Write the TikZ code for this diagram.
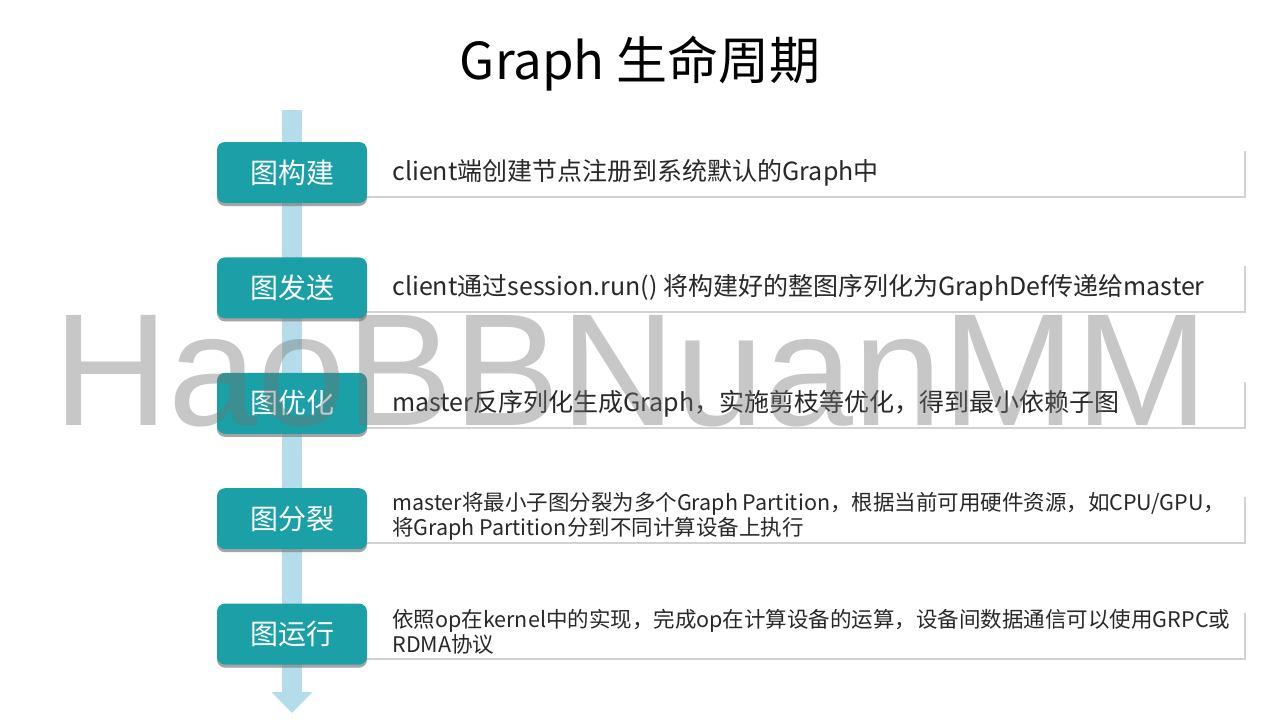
\documentclass[tikz,border=0pt]{standalone}
\usepackage{fontspec}
\setmainfont{Noto Sans CJK SC}
\newfontfamily\wmfont{Liberation Sans}
\usetikzlibrary{positioning,shadows,arrows.meta}
\definecolor{stageteal}{RGB}{26,160,166}
\definecolor{barblue}{RGB}{180,220,234}
\definecolor{desctext}{RGB}{40,40,40}
\tikzstyle{stage box}=[
    fill = stageteal,
    rounded corners = 8pt,
    minimum width = 150pt,
    minimum height = 61pt,
    text = white,
    font = \fontsize{28pt}{32pt}\selectfont,
    drop shadow = {shadow xshift=0pt, shadow yshift=-3pt, opacity=0.45}
]
\tikzstyle{desc bar}=[
    fill = white,
    minimum width = 899pt,
    minimum height = 47pt,
    anchor = west,
    drop shadow = {shadow xshift=1.5pt, shadow yshift=-2pt, opacity=0.35}
]

\begin{document}
\begin{tikzpicture}[x=1pt, y=-1pt, node distance={54pt},
    desc/.style = {anchor=west, align=left, inner sep=0pt, text=desctext, font=\fontsize{25pt}{29pt}\selectfont},
    small desc/.style = {desc, font=\fontsize{21.5pt}{25pt}\selectfont}]
        \fill[white] (0,0) rectangle (1280,720);
        \useasboundingbox (0,0) rectangle (1280,720);

        % title
        \node (title) at (640,64) {\fontsize{51pt}{56pt}\selectfont Graph 生命周期};

        % time line
        \coordinate (top) at (292,110);
        \coordinate (bottom) at (292,713);
        \draw[barblue, line width=20pt, -{Triangle[width=40pt, length=21pt]}] (top) -- (bottom);

        % stages
        \node[stage box, fill=none, drop shadow={opacity=0}] (s1) at (292,172.5) {};
        \node[stage box, fill=none, drop shadow={opacity=0}] (s2) [below = of s1] {};
        \node[stage box, fill=none, drop shadow={opacity=0}] (s3) [below = of s2] {};
        \node[stage box, fill=none, drop shadow={opacity=0}] (s4) [below = of s3] {};
        \node[stage box, fill=none, drop shadow={opacity=0}] (s5) [below = of s4] {};

        \node[desc bar] (b1) at ([xshift=-22pt]s1.east) {};
        \node[desc bar] (b2) at ([xshift=-22pt]s2.east) {};
        \node[desc bar] (b3) at ([xshift=-22pt]s3.east) {};
        \node[desc bar] (b4) at ([xshift=-22pt]s4.east) {};
        \node[desc bar] (b5) at ([xshift=-22pt]s5.east) {};

        \node[stage box] (l1) at (s1) {图构建};
        \node[stage box] (l2) at (s2) {图发送};
        \node[stage box] (l3) at (s3) {图优化};
        \node[stage box] (l4) at (s4) {图分裂};
        \node[stage box] (l5) at (s5) {图运行};

        \node[desc] (t1) at ([xshift=47pt]b1.west) {client端创建节点注册到系统默认的Graph中};
        \node[desc] (t2) at ([xshift=47pt]b2.west) {client通过session.run() 将构建好的整图序列化为GraphDef传递给master};
        \node[desc] (t3) at ([xshift=47pt]b3.west) {master反序列化生成Graph，实施剪枝等优化，得到最小依赖子图};
        \node[small desc] (t4) at ([xshift=47pt, yshift=2pt]b4.west) {master将最小子图分裂为多个Graph Partition，根据当前可用硬件资源，如CPU/GPU，\\将Graph Partition分到不同计算设备上执行};
        \node[small desc] (t5) at ([xshift=47pt, yshift=2pt]b5.west) {依照op在kernel中的实现，完成op在计算设备的运算，设备间数据通信可以使用GRPC或\\RDMA协议};

        % watermark
        \node[anchor=base west, inner sep=0pt, text=black!55, opacity=0.4] (wm) at (53,425) {\wmfont\fontsize{160pt}{160pt}\selectfont HaoBBNuanMM};

    \end{tikzpicture}
\end{document}
